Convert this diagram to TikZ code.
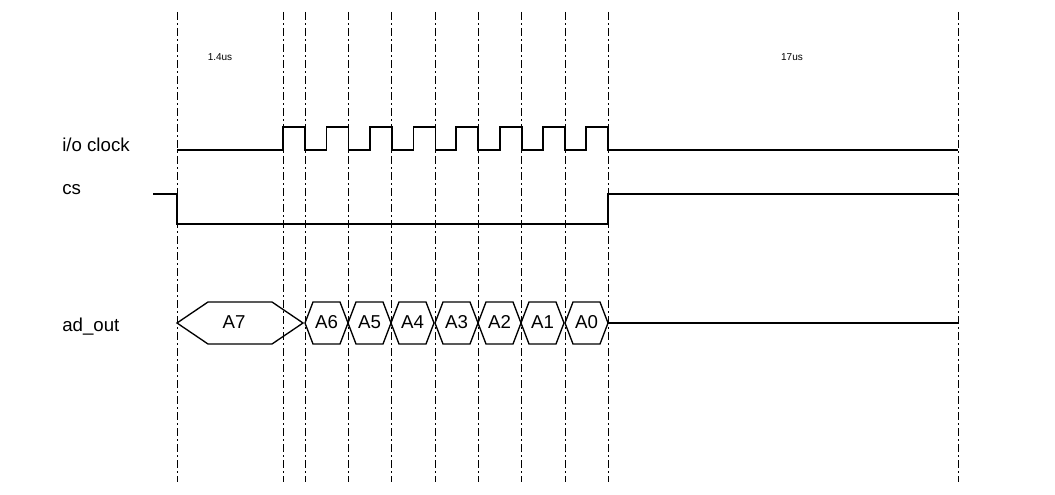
\documentclass[tikz,border=0pt]{standalone}
\usepackage{fontspec}
\setmainfont{Liberation Sans}
\begin{document}
\begin{tikzpicture}[x=0.75pt,y=-0.75pt,
  guide/.style={dash pattern=on 6pt off 2.5pt on 1pt off 2.5pt,line width=0.7pt},
  sig/.style={line width=1pt},
  lbl/.style={font=\fontsize{14}{16}\selectfont,anchor=west,inner sep=0pt},
  small/.style={font=\fontsize{7.5}{9}\selectfont,inner sep=0pt},
  hexlbl/.style={font=\fontsize{14}{16}\selectfont,inner sep=0pt,text height=10pt,text depth=0pt}]
\useasboundingbox (0,0) rectangle (1055,495);
\foreach \x in {177,283,305,348,391,435,478,521,565,608,958}
  \draw[guide] (\x,12) -- (\x,482);
\node[small] (t1) at (220,57) {1.4us};
\node[small] (t2) at (792,57) {17us};
\node[lbl] (clk) at (62,145) {i/o clock};
\node[lbl] (cs) at (62,190) {cs};
\node[lbl] (ad) at (62,327) {ad\_out};
% clock
\draw[sig] (177,150) -- (283,150)
  \foreach \a in {283,326.5,370,413.5,456,500,543,586} { -- (\a,150) -- (\a,127) -- (\a+22,127) -- (\a+22,150) }
  -- (958,150);
% cs
\draw[sig] (153,194) -- (177,194) -- (177,224) -- (608,224) -- (608,194) -- (958,194);
% ad_out
\draw[sig] (177,323) -- (208,302) -- (272,302) -- (303,323) -- (272,344) -- (208,344) -- cycle;
\node[hexlbl] (a7) at (234,322) {A7};
\foreach \x/\t in {305/A6,348/A5,391/A4,435/A3,478/A2,521/A1,565/A0} {
  \draw[sig] (\x,323) -- (\x+8,302) -- (\x+35,302) -- (\x+43,323) -- (\x+35,344) -- (\x+8,344) -- cycle;
  \node[hexlbl] (h\t) at (\x+21.5,322) {\t};
}
\draw[sig] (608,323) -- (958,323);
\end{tikzpicture}
\end{document}
